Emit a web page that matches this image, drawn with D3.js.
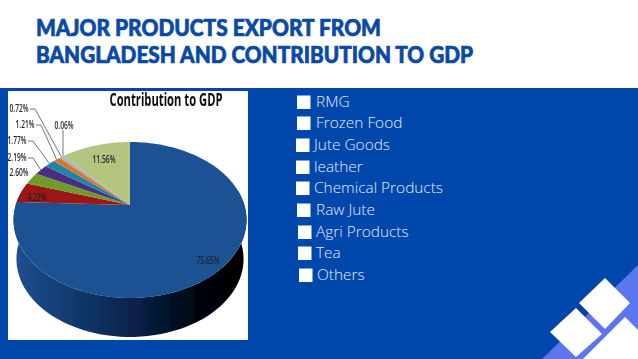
<!DOCTYPE html>
<html>
<head>
<meta charset="utf-8">
<script src="https://cdn.jsdelivr.net/npm/d3@7"></script>
<style>
  html, body { margin: 0; padding: 0; background: #fff; }
  svg { display: block; }
</style>
</head>
<body>
<div id="chart"></div>
<script>
// Chart data
const titleLines = ['MAJOR PRODUCTS EXPORT FROM', 'BANGLADESH AND CONTRIBUTION TO GDP'];
const pieTitle = 'Contribution to GDP';
const sliceValues = [75.65, 4.22, 2.60, 2.19, 1.77, 1.21, 0.72, 0.06, 11.56];
const sliceLabels = ['75.65%', '4.22%', '2.60%', '2.19%', '1.77%', '1.21%', '0.72%', '0.06%', '11.56%'];
const sliceColors = ['#1c5193', '#9c1613', '#6f9a2c', '#4b2e83', '#1f86a8', '#d9772b', '#a9b4c4', '#8ea0bd', '#b3c57f'];
const legendItems = ['RMG', 'Frozen Food', 'Jute Goods', 'leather', 'Chemical Products', 'Raw Jute', 'Agri Products', 'Tea', 'Others'];

// Layout only
const labelPos = [[208, 260], [37, 197], [19, 172], [17, 157], [17, 140], [25, 124], [19, 108], [64, 125], [104, 159]];
const legendY = [102, 123, 145, 167, 188, 210, 232, 253, 275];
const legendSquareX = [297, 297, 296, 296, 296, 297, 298, 298, 299];
const legendTextX = [316, 316, 314, 314, 314, 316, 316, 316, 317];

const width = 638, height = 359;
const svg = d3.select('#chart').append('svg').attr('width', width).attr('height', height);
const defs = svg.append('defs');

// Background
svg.append('rect').attr('width', width).attr('height', height).attr('fill', '#fff');
svg.append('rect').attr('y', 88).attr('width', width).attr('height', height - 88).attr('fill', '#0047ab');

// Title
svg.selectAll('.title').data(titleLines).enter().append('text')
  .attr('class', 'title')
  .attr('x', 36)
  .attr('y', (d, i) => 36 + i * 27)
  .attr('textLength', (d, i) => [345, 437][i])
  .attr('lengthAdjust', 'spacingAndGlyphs')
  .style('font-family', 'Lato, sans-serif')
  .style('font-weight', 900)
  .style('font-size', '22.5px')
  .style('fill', '#0a4aa6')
  .style('stroke', '#0a4aa6')
  .style('stroke-width', 0.7)
  .text(d => d);

// Corner decoration
svg.append('polygon').attr('points', '638,265 542,359 638,359').attr('fill', '#5b76ee');
svg.selectAll('.diamond')
  .data(['605,278 630,303 605,329 579,303', '576,308 602,334 576,357 550,332', '625,317 667,359 583,359'])
  .enter().append('polygon')
  .attr('class', 'diamond')
  .attr('points', d => d)
  .attr('fill', '#fff');
svg.append('line')
  .attr('x1', 578).attr('y1', 305).attr('x2', 587).attr('y2', 314)
  .attr('stroke', '#0b3f8f').attr('stroke-width', 2);

// Picture panel
svg.append('rect').attr('x', 8).attr('y', 91).attr('width', 240).attr('height', 249).attr('fill', '#fff');

// Pie projection: tilted circle with perspective, apex sits above ellipse centre
const cx = 130, cy = 205, rx = 114.3, ry = 75.1, k = 0.192, depth = 39;
function project(angle, r, dy, shrink) {
  const u = Math.sin(angle) * r, v = Math.cos(angle) * r;
  const s = 1 / (1 + k * v);
  return [cx + rx * u * s * (shrink || 1), cy - ry * v * s + (dy || 0)];
}

defs.append('filter').attr('id', 'soft')
  .append('feGaussianBlur').attr('stdDeviation', 0.45);

const sideGrad = defs.append('linearGradient').attr('id', 'side');
sideGrad.selectAll('stop')
  .data([[0, '#1d5090'], [0.25, '#123a70'], [0.55, '#071f44'], [0.78, '#01060f'], [1, '#000']])
  .enter().append('stop')
  .attr('offset', d => d[0])
  .attr('stop-color', d => d[1]);

const pieG = svg.append('g').attr('filter', 'url(#soft)');
const line = d3.line();

// Side wall of the pie
const wallTop = d3.range(Math.PI / 2 - 0.2, Math.PI * 1.5 + 0.21, 0.05).map(a => project(a, 1));
const wallBottom = d3.range(Math.PI * 1.5 + 0.2, Math.PI / 2 - 0.21, -0.05).map(a => project(a, 1, depth, 0.975));
pieG.append('path')
  .attr('d', line(wallTop.concat(wallBottom)) + 'Z')
  .attr('fill', 'url(#side)');

// Slices
const pie = d3.pie().sort(null).value(d => d);
const arcs = pie(sliceValues);
function slicePath(d) {
  const steps = Math.max(2, Math.ceil((d.endAngle - d.startAngle) / 0.03));
  const edge = d3.range(steps + 1).map(i => project(d.startAngle + (d.endAngle - d.startAngle) * i / steps, 1));
  return line([project(0, 0)].concat(edge)) + 'Z';
}
pieG.selectAll('.slice').data(arcs).enter().append('path')
  .attr('class', 'slice')
  .attr('d', slicePath)
  .attr('fill', (d, i) => sliceColors[i]);

// Leader lines for the thin slices
const leaderIdx = [3, 4, 5, 6, 7];
pieG.selectAll('.leader').data(leaderIdx).enter().append('path')
  .attr('class', 'leader')
  .attr('d', i => {
    const a = (arcs[i].startAngle + arcs[i].endAngle) / 2;
    const end = project(a, 1);
    const lp = labelPos[i];
    if (i === 7) return line([[lp[0] - 1, lp[1] + 5], [lp[0] - 1, end[1]]]);
    const sx = lp[0] + 11;
    return line([[sx, lp[1] + 1], [sx + 5, lp[1] + 1], end]);
  })
  .attr('fill', 'none')
  .attr('stroke', '#5d6470')
  .attr('stroke-width', 0.9);

// Slice labels
pieG.selectAll('.slice-label').data(sliceLabels).enter().append('text')
  .attr('class', 'slice-label')
  .attr('x', (d, i) => labelPos[i][0])
  .attr('y', (d, i) => labelPos[i][1])
  .attr('dy', '0.35em')
  .attr('text-anchor', 'middle')
  .attr('textLength', d => d.length > 5 ? 23 : 19)
  .attr('lengthAdjust', 'spacingAndGlyphs')
  .style('font-family', '"Open Sans", sans-serif')
  .style('font-weight', 600)
  .style('font-size', '10px')
  .style('fill', '#1a2430')
  .text(d => d);

pieG.append('text')
  .attr('x', 166)
  .attr('y', 106)
  .attr('text-anchor', 'middle')
  .attr('textLength', 113)
  .attr('lengthAdjust', 'spacingAndGlyphs')
  .style('font-family', '"Open Sans", sans-serif')
  .style('font-weight', 700)
  .style('font-size', '17.5px')
  .style('fill', '#111')
  .text(pieTitle);

// Legend list
const rows = svg.selectAll('.row').data(legendItems).enter().append('g').attr('class', 'row');
rows.append('rect')
  .attr('x', (d, i) => legendSquareX[i])
  .attr('y', (d, i) => legendY[i] - 6.5)
  .attr('width', 13.5)
  .attr('height', 13.5)
  .attr('fill', '#fff');
rows.append('text')
  .attr('x', (d, i) => legendTextX[i])
  .attr('y', (d, i) => legendY[i])
  .attr('dy', '0.35em')
  .style('font-family', '"Open Sans", sans-serif')
  .style('font-weight', 300)
  .style('font-size', '15.4px')
  .style('fill', '#e6edf8')
  .text(d => d);
</script>
</body>
</html>
